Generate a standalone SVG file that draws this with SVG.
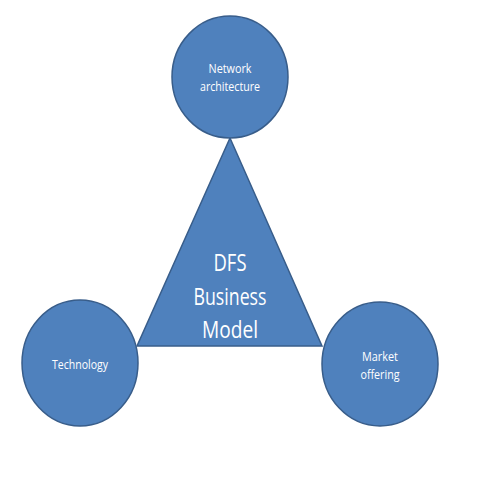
<svg xmlns="http://www.w3.org/2000/svg" width="480" height="480" viewBox="0 0 480 480">
<style>
.s{fill:#4f81bd;stroke:#385d8a;stroke-width:1.5}
.t{font-family:"Open Sans","Liberation Sans",sans-serif;fill:#ffffff;text-anchor:middle}
.sm{font-size:13px}
.lg{font-size:24px}
</style>
<rect width="480" height="480" fill="#ffffff"/>
<g id="triangle">
<polygon class="s" points="230,138 137,346 322,346"/>
<text class="t lg" x="230" y="271" textLength="33" lengthAdjust="spacingAndGlyphs">DFS</text>
<text class="t lg" x="230" y="305" textLength="73" lengthAdjust="spacingAndGlyphs">Business</text>
<text class="t lg" x="230" y="338" textLength="56" lengthAdjust="spacingAndGlyphs">Model</text>
</g>
<g id="network">
<ellipse class="s" cx="230" cy="77" rx="58" ry="61"/>
<text class="t sm" x="230" y="73" textLength="43" lengthAdjust="spacingAndGlyphs">Network</text>
<text class="t sm" x="230" y="91" textLength="60" lengthAdjust="spacingAndGlyphs">architecture</text>
</g>
<g id="technology">
<ellipse class="s" cx="80" cy="363" rx="58" ry="63"/>
<text class="t sm" x="80" y="369" textLength="56" lengthAdjust="spacingAndGlyphs">Technology</text>
</g>
<g id="market">
<ellipse class="s" cx="380" cy="364" rx="58" ry="62"/>
<text class="t sm" x="380" y="361" textLength="36" lengthAdjust="spacingAndGlyphs">Market</text>
<text class="t sm" x="380" y="379" textLength="39" lengthAdjust="spacingAndGlyphs">offering</text>
</g>
<g id="connectors"></g>
</svg>
